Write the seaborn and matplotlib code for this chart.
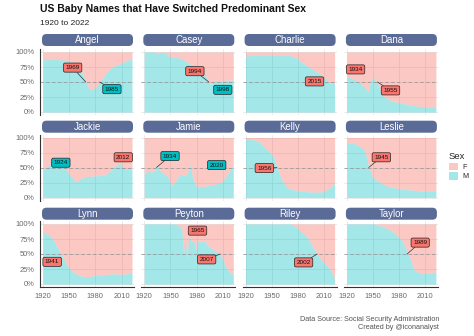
import numpy as np
import pandas as pd
import matplotlib
matplotlib.use("Agg")
import matplotlib.pyplot as plt
import seaborn as sns
from matplotlib.patches import FancyBboxPatch, Patch

# ---------------- data (share of babies that are male) ----------------
names = ["Angel", "Casey", "Charlie", "Dana", "Jackie", "Jamie",
         "Kelly", "Leslie", "Lynn", "Peyton", "Riley", "Taylor"]

angel_years = [1920, 1932, 1948, 1955, 1960, 1965, 1969, 1973, 1976, 1979, 1982, 1985, 1990, 1994, 1999, 2004, 2008, 2012, 2016, 2022]
angel_male = [0.87, 0.88, 0.86, 0.80, 0.74, 0.64, 0.52, 0.37, 0.38, 0.40, 0.44, 0.50, 0.60, 0.68, 0.74, 0.78, 0.80, 0.83, 0.86, 0.88]

casey_years = [1920, 1930, 1935, 1940, 1945, 1949, 1955, 1960, 1965, 1969, 1975, 1981, 1989, 1994, 1996, 1998, 2002, 2008, 2015, 2022]
casey_male = [1.0, 1.0, 0.98, 1.0, 0.97, 0.92, 0.91, 0.90, 0.87, 0.83, 0.78, 0.72, 0.63, 0.50, 0.46, 0.50, 0.52, 0.52, 0.53, 0.53]

charlie_years = [1920, 1925, 1930, 1960, 1972, 1980, 1990, 2000, 2007, 2015, 2018, 2022]
charlie_male = [0.93, 0.94, 0.94, 0.94, 0.94, 0.88, 0.77, 0.68, 0.61, 0.50, 0.48, 0.47]

dana_years = [1920, 1928, 1934, 1940, 1944, 1948, 1951, 1955, 1960, 1963, 1970, 1975, 1985, 1994, 2005, 2022]
dana_male = [0.59, 0.55, 0.50, 0.42, 0.33, 0.55, 0.57, 0.47, 0.32, 0.25, 0.19, 0.17, 0.14, 0.11, 0.09, 0.08]

jackie_years = [1920, 1922, 1924, 1930, 1940, 1945, 1950, 1955, 1958, 1964, 1970, 1980, 1990, 1995, 2000, 2005, 2008, 2012, 2016, 2022]
jackie_male = [0.46, 0.48, 0.52, 0.55, 0.52, 0.48, 0.40, 0.30, 0.26, 0.32, 0.35, 0.36, 0.37, 0.42, 0.48, 0.55, 0.57, 0.50, 0.47, 0.48]

jamie_years = [1920, 1924, 1928, 1932, 1934, 1937, 1940, 1946, 1950, 1952, 1956, 1961, 1967, 1971, 1973, 1975, 1978, 1981, 1990, 2000, 2008, 2014, 2018, 2020, 2022]
jamie_male = [0.39, 0.44, 0.42, 0.45, 0.55, 0.47, 0.42, 0.36, 0.25, 0.19, 0.28, 0.39, 0.36, 0.45, 0.57, 0.35, 0.22, 0.17, 0.19, 0.22, 0.25, 0.36, 0.44, 0.50, 0.52]

kelly_years = [1920, 1930, 1936, 1946, 1952, 1956, 1962, 1968, 1980, 1995, 2007, 2017, 2022]
kelly_male = [0.97, 0.96, 0.92, 0.78, 0.68, 0.50, 0.27, 0.16, 0.11, 0.09, 0.09, 0.16, 0.24]

leslie_years = [1920, 1930, 1939, 1942, 1945, 1949, 1955, 1966, 1982, 2005, 2022]
leslie_male = [0.92, 0.89, 0.81, 0.70, 0.50, 0.35, 0.27, 0.19, 0.14, 0.11, 0.11]

lynn_years = [1920, 1928, 1933, 1939, 1941, 1947, 1955, 1962, 1970, 1985, 2001, 2012, 2022]
lynn_male = [0.86, 0.81, 0.70, 0.54, 0.50, 0.32, 0.19, 0.14, 0.12, 0.15, 0.17, 0.16, 0.19]

peyton_years = [1920, 1955, 1960, 1963, 1965, 1967, 1969, 1971, 1974, 1977, 1979, 1981, 1984, 1988, 1992, 1996, 2000, 2004, 2007, 2010, 2014, 2018, 2022]
peyton_male = [1.0, 1.0, 0.97, 0.90, 0.50, 0.75, 0.40, 0.80, 0.72, 0.70, 0.55, 0.72, 0.70, 0.72, 0.65, 0.60, 0.56, 0.53, 0.50, 0.40, 0.26, 0.20, 0.15]

riley_years = [1920, 1972, 1975, 1980, 1985, 1991, 1995, 2000, 2002, 2005, 2012, 2018, 2022]
riley_male = [1.0, 1.0, 0.97, 0.92, 0.85, 0.78, 0.66, 0.55, 0.50, 0.43, 0.32, 0.22, 0.08]

taylor_years = [1920, 1951, 1960, 1971, 1978, 1983, 1987, 1989, 1993, 1996, 2000, 2006, 2015, 2022]
taylor_male = [1.0, 1.0, 0.96, 0.89, 0.80, 0.73, 0.60, 0.52, 0.41, 0.25, 0.20, 0.17, 0.18, 0.20]

series = {
    "Angel": (angel_years, angel_male), "Casey": (casey_years, casey_male),
    "Charlie": (charlie_years, charlie_male), "Dana": (dana_years, dana_male),
    "Jackie": (jackie_years, jackie_male), "Jamie": (jamie_years, jamie_male),
    "Kelly": (kelly_years, kelly_male), "Leslie": (leslie_years, leslie_male),
    "Lynn": (lynn_years, lynn_male), "Peyton": (peyton_years, peyton_male),
    "Riley": (riley_years, riley_male), "Taylor": (taylor_years, taylor_male),
}

# switch-year labels: name -> list of (year, sex that became predominant)
switch_labels = {
    "Angel": [(1969, "F"), (1985, "M")],
    "Casey": [(1994, "F"), (1998, "M")],
    "Charlie": [(2015, "F")],
    "Dana": [(1934, "F"), (1955, "F")],
    "Jackie": [(1924, "M"), (2012, "F")],
    "Jamie": [(1934, "M"), (2020, "M")],
    "Kelly": [(1956, "F")],
    "Leslie": [(1945, "F")],
    "Lynn": [(1941, "F")],
    "Peyton": [(1965, "F"), (2007, "F")],
    "Riley": [(2002, "F")],
    "Taylor": [(1989, "F")],
}

x_ticks = [1920, 1950, 1980, 2010]
y_ticks = [0, 0.25, 0.5, 0.75, 1.0]
y_tick_labels = ["0%", "25%", "50%", "75%", "100%"]

# ---------------- layout (label box positions in data coords, segment on/off) ----------------
label_layout = {
    ("Angel", 1969): (1954, 0.74, True), ("Angel", 1985): (1999, 0.38, True),
    ("Casey", 1994): (1978, 0.68, True), ("Casey", 1998): (2010, 0.37, False),
    ("Charlie", 2015): (1999, 0.51, False),
    ("Dana", 1934): (1930, 0.71, False), ("Dana", 1955): (1970, 0.36, True),
    ("Jackie", 1924): (1940.5, 0.58, False), ("Jackie", 2012): (2012, 0.67, False),
    ("Jamie", 1934): (1949.5, 0.69, True), ("Jamie", 2020): (2003, 0.54, False),
    ("Kelly", 1956): (1941.5, 0.49, True),
    ("Leslie", 1945): (1959.5, 0.67, True),
    ("Lynn", 1941): (1930.5, 0.37, False),
    ("Peyton", 1965): (1981, 0.89, False), ("Peyton", 2007): (1991.5, 0.41, True),
    ("Riley", 2002): (1986.5, 0.36, True),
    ("Taylor", 1989): (2004, 0.69, True),
}

sns.set_theme(style="white")
plt.rcParams["font.family"] = ["Liberation Sans", "DejaVu Sans"]

F_COL = "#F8766D"
M_COL = "#00BFC4"
STRIP_COL = "#5B6B98"

W, H = 474, 336
fig = plt.figure(figsize=(W / 100, H / 100), dpi=100)


def fr(x0, y0, w, h):
    return [x0 / W, 1 - (y0 + h) / H, w / W, h / H]


col_left = [40 + 101.3 * c for c in range(4)]
ax_w = 94
row_top = [49, 134.5, 221]
ax_h = 66
strip_top = [34, 120.7, 207.7]
strip_h = 12

for i, name in enumerate(names):
    r, c = divmod(i, 4)
    ax = fig.add_axes(fr(col_left[c], row_top[r], ax_w, ax_h))
    yrs, male = series[name]
    df = pd.DataFrame({"year": yrs, "male": male})
    ax.set_axisbelow(True)
    ax.grid(True, color="#E2E2E2", lw=0.5)
    ax.fill_between(df["year"], df["male"], 1.0, color=F_COL, alpha=0.40, lw=0, zorder=1)
    ax.fill_between(df["year"], 0, df["male"], color=M_COL, alpha=0.36, lw=0, zorder=1)
    sns.lineplot(data=df, x="year", y="male", ax=ax, lw=0, color=M_COL, zorder=1)
    ax.axhline(0.5, color="#9A9A9A", lw=0.6, ls=(0, (4, 3)), zorder=2)
    ax.set_xlim(1916.6, 2024.3)
    ax.set_ylim(-0.05, 1.05)
    ax.set_xticks(x_ticks)
    ax.set_yticks(y_ticks)
    ax.set_xlabel("")
    ax.set_ylabel("")
    for s in ax.spines.values():
        s.set_visible(False)
    ax.tick_params(axis="both", length=2.5, width=0.6, color="#333333",
                   labelsize=5.4, labelcolor="#6A6A6A", pad=1.5)
    if c == 0:
        ax.spines["left"].set_visible(True)
        ax.spines["left"].set_color("#333333")
        ax.spines["left"].set_linewidth(0.8)
        ax.set_yticklabels(y_tick_labels)
    else:
        ax.tick_params(axis="y", left=False, labelleft=False)
    if r == 2:
        ax.spines["bottom"].set_visible(True)
        ax.spines["bottom"].set_color("#333333")
        ax.spines["bottom"].set_linewidth(0.8)
        ax.set_xticklabels([str(t) for t in x_ticks])
    else:
        ax.tick_params(axis="x", bottom=False, labelbottom=False)

    for (yr, sex) in switch_labels[name]:
        lx, ly, seg = label_layout[(name, yr)]
        fc = F_COL if sex == "F" else M_COL
        ax.annotate(str(yr), xy=(yr, 0.5), xytext=(lx, ly), textcoords="data",
                    fontsize=4.6, ha="center", va="center", color="#111111", zorder=5,
                    bbox=dict(boxstyle="round,pad=0.32,rounding_size=0.25", fc=fc, ec="#222222", lw=0.5),
                    arrowprops=(dict(arrowstyle="-", lw=0.5, color="#333333", shrinkA=0, shrinkB=0)
                                if seg else None))

    # strip
    sx = col_left[c] + 2
    sw = 91
    sy = strip_top[r]
    patch = FancyBboxPatch(((sx) / 100, (H - sy - strip_h) / 100), sw / 100, strip_h / 100,
                           boxstyle="round,pad=0,rounding_size=0.045",
                           transform=fig.dpi_scale_trans, fc=STRIP_COL, ec="none")
    fig.add_artist(patch)
    fig.text((sx + sw / 2) / W, 1 - (sy + strip_h / 2 + 0.3) / H, name, color="white",
             fontsize=6.9, ha="center", va="center")

# titles
fig.text(40 / W, 1 - 9.5 / H, "US Baby Names that Have Switched Predominant Sex",
         fontsize=7.5, fontweight="bold", ha="left", va="center", color="#111111")
fig.text(40 / W, 1 - 23.5 / H, "1920 to 2022", fontsize=6.0, ha="left", va="center", color="#222222")

# caption
fig.text(439 / W, 1 - 319.5 / H, "Data Source: Social Security Administration",
         fontsize=5.2, ha="right", va="center", color="#555555")
fig.text(439 / W, 1 - 327.8 / H, "Created by @iconanalyst",
         fontsize=5.2, ha="right", va="center", color="#555555")

# legend
handles = [Patch(facecolor=F_COL, alpha=0.40, edgecolor="none", label="F"),
           Patch(facecolor=M_COL, alpha=0.36, edgecolor="none", label="M")]
fig.legend(handles=handles, title="Sex", loc="upper left",
           bbox_to_anchor=(444 / W, 1 - 147 / H), frameon=False,
           fontsize=5.2, title_fontsize=6.8, handlelength=1.25, handleheight=1.25,
           labelspacing=0.2, handletextpad=0.6, borderpad=0.2, alignment="left")

fig.savefig("out.png", dpi=100, facecolor="white")
